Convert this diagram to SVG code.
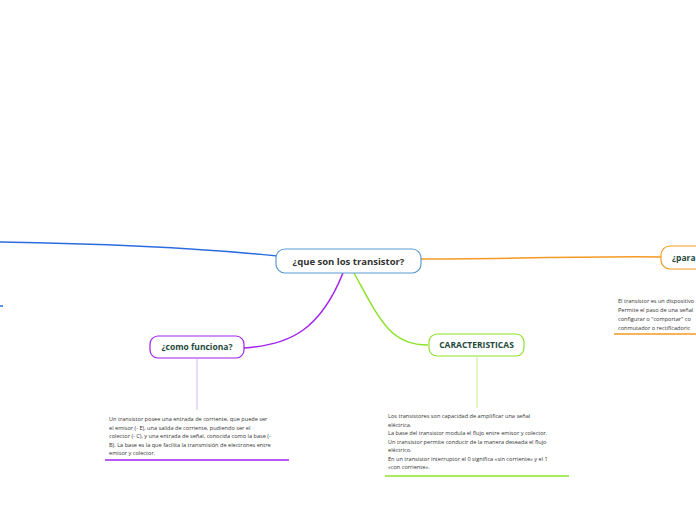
<svg xmlns="http://www.w3.org/2000/svg" width="696" height="520" viewBox="0 0 696 520">
<style>
.t{font-family:"Open Sans","Liberation Sans",sans-serif;fill:#333}
.s{font-size:5.6px}
.h{font-size:8.5px;font-weight:bold;fill:#1e4a3c}
</style>
<rect width="696" height="520" fill="#fff"/>
<g id="connectors" fill="none" stroke-width="1.5">
<path d="M0,242 C120,244 200,248 278,256" stroke="#2a6de0"/>
<path d="M0,306 L3,306" stroke="#2a6de0"/>
<path d="M421,259 C500,259 600,256 661,257" stroke="#f59a23"/>
<path d="M343,273 C320,330 290,345 244,348" stroke="#a020f0"/>
<path d="M354,273 C380,320 390,345 428,345" stroke="#8de22a"/>
<path d="M197,359 L197,410" stroke="#e0b3f7" stroke-width="1"/>
<path d="M477,357 L477,408" stroke="#c6f08d" stroke-width="1"/>
</g>
<g id="root">
<rect x="276" y="249" width="145" height="24" rx="9" fill="#fff" stroke="#5b9bd5" stroke-width="1.2"/>
<text class="t" x="348.5" y="265" text-anchor="middle" font-size="9.5" font-weight="bold" fill="#1e2f4a">¿que son los transistor?</text>
</g>
<g id="para">
<rect x="661" y="246" width="60" height="23" rx="9" fill="#fff" stroke="#f59a23" stroke-width="1.2"/>
<text class="t h" x="672" y="261">¿para</text>
<text class="t s" x="618" y="303">El transistor es un dispositivo</text>
<text class="t s" x="618" y="312">Permite el paso de una señal</text>
<text class="t s" x="618" y="321">configurar o "comportar" co</text>
<text class="t s" x="618" y="330">conmutador o rectificadoric</text>
<line x1="614" y1="334" x2="696" y2="334" stroke="#f59a23" stroke-width="1.5"/>
</g>
<g id="como">
<rect x="150" y="336" width="94" height="22" rx="8" fill="#fff" stroke="#a020f0" stroke-width="1.2"/>
<text class="t h" x="197" y="350" text-anchor="middle">¿como funciona?</text>
<text class="t s" x="109" y="421">Un transistor posee una entrada de corriente, que puede ser</text>
<text class="t s" x="109" y="429.5">el emisor (- E), una salida de corriente, pudiendo ser el</text>
<text class="t s" x="109" y="438">colector (- C), y una entrada de señal, conocida como la base (-</text>
<text class="t s" x="109" y="446.5">B). La base es la que facilita la transmisión de electrones entre</text>
<text class="t s" x="109" y="455">emisor y colector.</text>
<line x1="105" y1="460" x2="289" y2="460" stroke="#a020f0" stroke-width="1.5"/>
</g>
<g id="caract">
<rect x="429" y="334" width="95" height="22" rx="8" fill="#fff" stroke="#8de22a" stroke-width="1.2"/>
<text class="t h" x="476.5" y="348" text-anchor="middle">CARACTERISTICAS</text>
<text class="t s" x="388" y="418">Los transistores son capacidad de amplificar una señal</text>
<text class="t s" x="388" y="426.5">eléctrica.</text>
<text class="t s" x="388" y="435">La base del transistor modula el flujo entre emisor y colector.</text>
<text class="t s" x="388" y="443.5">Un transistor permite conducir de la manera deseada el flujo</text>
<text class="t s" x="388" y="452">eléctrico.</text>
<text class="t s" x="388" y="460.5">En un transistor interruptor el 0 significa «sin corriente» y el 1</text>
<text class="t s" x="388" y="469">«con corriente».</text>
<line x1="385" y1="476" x2="569" y2="476" stroke="#8de22a" stroke-width="1.5"/>
</g>
</svg>
